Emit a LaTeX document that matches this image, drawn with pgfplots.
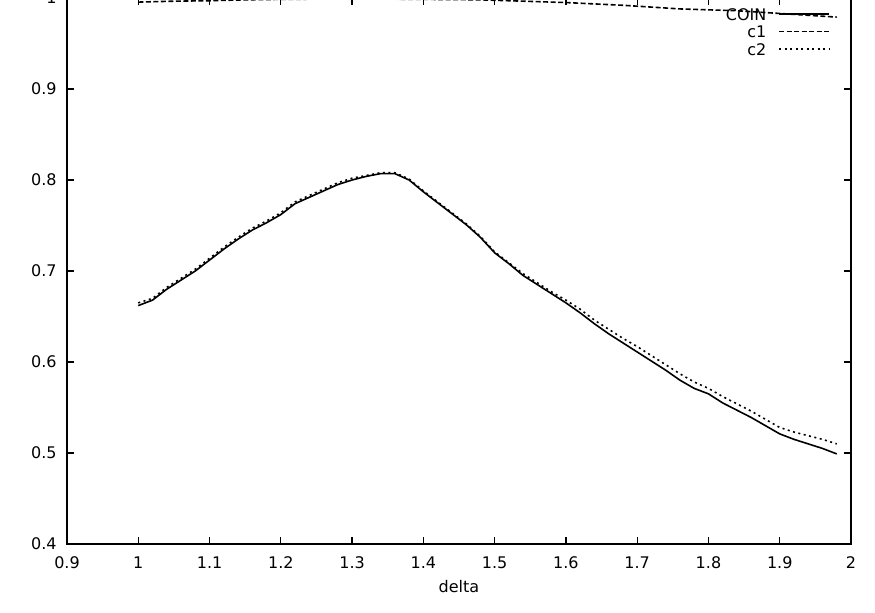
\documentclass[border=0pt]{standalone}
\usepackage{fontspec}
\setmainfont{DejaVu Sans}
\usepackage{pgfplots}
\usepackage{pgfplotstable}
\pgfplotsset{compat=1.18}

\pgfplotstableread{
x y
1.00 0.662
1.02 0.668
1.04 0.680
1.06 0.690
1.08 0.700
1.10 0.712
1.12 0.724
1.14 0.735
1.16 0.745
1.18 0.753
1.20 0.762
1.22 0.774
1.24 0.781
1.26 0.788
1.28 0.795
1.30 0.800
1.32 0.804
1.34 0.807
1.36 0.807
1.38 0.800
1.40 0.787
1.42 0.775
1.44 0.763
1.46 0.751
1.48 0.737
1.50 0.720
1.52 0.708
1.54 0.695
1.56 0.685
1.58 0.675
1.60 0.665
1.62 0.654
1.64 0.642
1.66 0.631
1.68 0.621
1.70 0.611
1.72 0.601
1.74 0.591
1.76 0.580
1.78 0.571
1.80 0.565
1.82 0.555
1.84 0.547
1.86 0.539
1.88 0.530
1.90 0.521
1.92 0.515
1.94 0.510
1.96 0.505
1.98 0.499
}\coin

\pgfplotstableread{
x y
1.00 0.9955
1.05 0.9965
1.10 0.9970
1.15 0.9980
1.20 0.9985
1.30 0.9990
1.40 0.9985
1.48 0.9980
1.52 0.9970
1.56 0.9960
1.60 0.9950
1.64 0.9935
1.68 0.9920
1.72 0.9900
1.76 0.9880
1.80 0.9870
1.84 0.9860
1.88 0.9840
1.92 0.9820
1.96 0.9800
1.98 0.9790
}\cone

\pgfplotstableread{
x y
1.00 0.665
1.02 0.670
1.04 0.682
1.06 0.692
1.08 0.702
1.10 0.714
1.12 0.726
1.14 0.737
1.16 0.747
1.18 0.755
1.20 0.764
1.22 0.776
1.24 0.783
1.26 0.790
1.28 0.797
1.30 0.802
1.32 0.805
1.34 0.808
1.36 0.808
1.38 0.801
1.40 0.788
1.42 0.776
1.44 0.764
1.46 0.752
1.48 0.738
1.50 0.721
1.52 0.709
1.54 0.697
1.56 0.687
1.58 0.677
1.60 0.668
1.62 0.658
1.64 0.646
1.66 0.636
1.68 0.626
1.70 0.617
1.72 0.607
1.74 0.597
1.76 0.587
1.78 0.578
1.80 0.571
1.82 0.562
1.84 0.554
1.86 0.546
1.88 0.537
1.90 0.528
1.92 0.523
1.94 0.519
1.96 0.515
1.98 0.510
}\ctwo

\begin{document}
\begin{tikzpicture}
\begin{axis}[
  scale only axis,
  width=392pt, height=273pt,
  xmin=0.9, xmax=2, ymin=0.4, ymax=1,
  xtick={0.9,1,...,2.01},
  ytick={0.4,0.5,...,1.01},
  minor tick num=0,
  tick align=inside,
  major tick length=3.5pt,
  every tick/.style={black, line width=0.6pt},
  axis line style={line width=1pt},
  /pgf/number format/assume math mode=true,
  tick label style={font=\fontsize{8}{9.6}\selectfont, inner sep=0pt},
  xticklabel style={anchor=north, yshift=-6pt},
  yticklabel style={anchor=east, xshift=-5pt},
  xlabel={delta},
  xlabel style={at={(axis description cs:0.5,0)}, anchor=center, yshift=-21.5pt, inner sep=0pt, font=\fontsize{8}{9.6}\selectfont},
  legend plot pos=right,
  legend cell align=right,
  legend image code/.code={\path (0pt,0pt); \draw[#1] (6pt,0pt) -- (31pt,0pt);},
  legend style={at={(rel axis cs:1,1)}, anchor=north east, xshift=-10.5pt, yshift=-5pt,
    draw=none, fill=none, inner sep=0pt, outer sep=0pt, row sep=2.75pt,
    font=\fontsize{8}{9.6}\selectfont,
    nodes={inner sep=0pt, text height=6pt, text depth=0pt}},
]
\addplot[black, line width=0.8pt, solid] table[x=x,y=y] {\coin};
\addlegendentry{COIN}
\addplot[black, line width=0.8pt, dash pattern=on 2.5pt off 1.25pt] table[x=x,y=y] {\cone};
\addlegendentry{c1}
\addplot[black, line width=0.8pt, dash pattern=on 1pt off 1.75pt] table[x=x,y=y] {\ctwo};
\addlegendentry{c2}
\coordinate (bl) at (rel axis cs:0,0);
\coordinate (tr) at (rel axis cs:1,1);
\end{axis}
\pgfresetboundingbox
\useasboundingbox ([xshift=-33.5pt,yshift=-34.5pt]bl) rectangle ([xshift=12pt,yshift=-1pt]tr);
\end{tikzpicture}
\end{document}
